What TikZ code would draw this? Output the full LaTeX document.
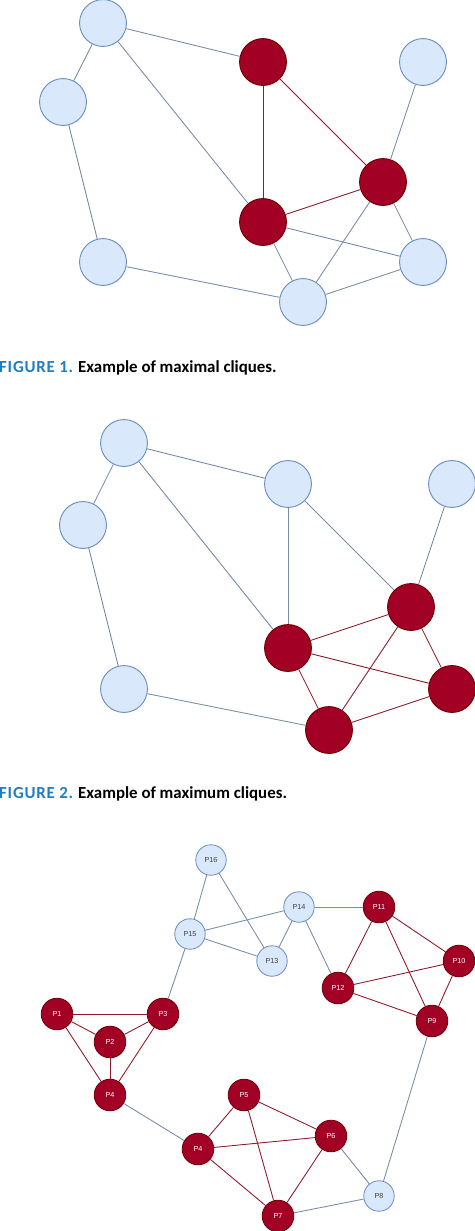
\documentclass[tikz,border=0pt]{standalone}
\usepackage{fontspec}
\setmainfont{Carlito}
\newfontfamily\labelfont{Liberation Sans}
\newfontfamily\capsfont[LetterSpace=4.5]{Carlito}
\usetikzlibrary{calc}
\definecolor{crimson}{HTML}{A20025}
\definecolor{crimsonline}{HTML}{6F0000}
\definecolor{paleblue}{HTML}{DAE8FC}
\definecolor{paleline}{HTML}{6C8EBF}
\definecolor{greyedge}{HTML}{7B8DA6}
\definecolor{redge}{HTML}{8E1B2B}
\definecolor{capblue}{HTML}{1F7DC1}
\tikzset{
  vtx/.style={circle,draw=paleline,fill=paleblue,line width=0.8pt,minimum size=40,inner sep=0pt},
  hot/.style={circle,draw=crimsonline,fill=crimson,line width=0.8pt,minimum size=40,inner sep=0pt},
  pvtx/.style={circle,draw=paleline,fill=paleblue,line width=0.7pt,minimum size=26,inner sep=0pt,
    text=black!75,font=\labelfont\fontsize{6.2}{7}\selectfont},
  phot/.style={circle,draw=crimsonline,fill=crimson,line width=0.7pt,minimum size=27,inner sep=0pt,
    text=white,font=\labelfont\fontsize{6.2}{7}\selectfont},
  edge/.style={draw=greyedge,line width=0.75pt},
  cedge/.style={draw=redge,line width=0.75pt},
  figno/.style={text=capblue,font=\capsfont\bfseries\fontsize{14.4}{16}\selectfont,anchor=base west,inner sep=0pt},
  captxt/.style={text=black,font=\bfseries\fontsize{14.4}{16}\selectfont,anchor=base west,inner sep=0pt}
}
\begin{document}
\begin{tikzpicture}[x=0.03cm,y=-0.03cm]
  \path[use as bounding box] (0,0) rectangle (474,1231);

  % Figure 1: maximal clique.
  \node[vtx] (a1) at (103,23) {};
  \node[vtx] (b1) at (63,102) {};
  \node[vtx] (c1) at (103,262) {};
  \node[hot] (d1) at (263,62) {};
  \node[vtx] (e1) at (423,62) {};
  \node[hot] (f1) at (383,182) {};
  \node[hot] (g1) at (263,222) {};
  \node[vtx] (h1) at (423,262) {};
  \node[vtx] (i1) at (303,302) {};
  \draw[edge] (a1) -- (d1);
  \draw[edge] (a1) -- (b1);
  \draw[edge] (a1) -- (g1);
  \draw[edge] (b1) -- (c1);
  \draw[edge] (c1) -- (i1);
  \draw[edge] (e1) -- (f1);
  \draw[edge] (g1) -- (i1);
  \draw[edge] (g1) -- (h1);
  \draw[edge] (f1) -- (i1);
  \draw[edge] (f1) -- (h1);
  \draw[edge] (i1) -- (h1);
  \draw[cedge] (d1) -- (g1);
  \draw[cedge] (d1) -- (f1);
  \draw[cedge] (g1) -- (f1);

  \node[figno] (cap1) at (-1,372) {FIGURE 1.};
  \node[captxt] (txt1) at (78,372) {Example of maximal cliques.};

  % Figure 2: maximum clique.
  \node[vtx] (a2) at (124,443) {};
  \node[vtx] (b2) at (83,525) {};
  \node[vtx] (c2) at (124,689) {};
  \node[vtx] (d2) at (288,484) {};
  \node[vtx] (e2) at (452,484) {};
  \node[hot] (f2) at (411,607) {};
  \node[hot] (g2) at (288,648) {};
  \node[hot] (h2) at (452,689) {};
  \node[hot] (i2) at (329,730) {};
  \draw[edge] (a2) -- (d2);
  \draw[edge] (a2) -- (b2);
  \draw[edge] (a2) -- (g2);
  \draw[edge] (b2) -- (c2);
  \draw[edge] (c2) -- (i2);
  \draw[edge] (d2) -- (g2);
  \draw[edge] (d2) -- (f2);
  \draw[edge] (e2) -- (f2);
  \draw[cedge] (g2) -- (f2);
  \draw[cedge] (g2) -- (h2);
  \draw[cedge] (g2) -- (i2);
  \draw[cedge] (f2) -- (i2);
  \draw[cedge] (f2) -- (h2);
  \draw[cedge] (i2) -- (h2);

  \node[figno] (cap2) at (-1,798) {FIGURE 2.};
  \node[captxt] (txt2) at (78,798) {Example of maximum cliques.};

  % Figure 3: labelled graph with its cliques.
  \node[pvtx] (p16) at (211,860) {P16};
  \node[pvtx] (p15) at (190,934) {P15};
  \node[pvtx] (p14) at (299,907) {P14};
  \node[pvtx] (p13) at (272,961) {P13};
  \node[phot] (p11) at (379,907) {P11};
  \node[phot] (p10) at (459,961) {P10};
  \node[phot] (p12) at (338,988) {P12};
  \node[phot] (p9) at (432,1021) {P9};
  \node[phot] (p1) at (57,1014) {P1};
  \node[phot] (p3) at (163,1014) {P3};
  \node[phot] (p2) at (110,1042) {P2};
  \node[phot] (p4) at (110,1095) {P4};
  \node[phot] (p5) at (244,1095) {P5};
  \node[phot] (q4) at (198,1149) {P4};
  \node[phot] (p6) at (331,1136) {P6};
  \node[pvtx] (p8) at (379,1196) {P8};
  \node[phot] (p7) at (278,1216) {P7};

  \draw[edge] (p16) -- (p15);
  \draw[edge] (p16) -- (p13);
  \draw[edge] (p15) -- (p14);
  \draw[edge] (p15) -- (p13);
  \draw[edge] (p14) -- (p13);
  \draw[edge] (p14) -- (p11);
  \draw[edge] (p14) -- (p12);
  \draw[edge] (p15) -- (p3);
  \draw[edge] (p9) -- (p8);
  \draw[edge] (p4) -- (q4);
  \draw[edge] (p6) -- (p8);
  \draw[edge] (p7) -- (p8);

  \draw[cedge] (p11) -- (p12);
  \draw[cedge] (p11) -- (p10);
  \draw[cedge] (p11) -- (p9);
  \draw[cedge] (p12) -- (p10);
  \draw[cedge] (p12) -- (p9);
  \draw[cedge] (p10) -- (p9);

  \draw[cedge] (p1) -- (p3);
  \draw[cedge] (p1) -- (p2);
  \draw[cedge] (p1) -- (p4);
  \draw[cedge] (p3) -- (p2);
  \draw[cedge] (p3) -- (p4);
  \draw[cedge] (p2) -- (p4);

  \draw[cedge] (p5) -- (q4);
  \draw[cedge] (p5) -- (p6);
  \draw[cedge] (p5) -- (p7);
  \draw[cedge] (q4) -- (p6);
  \draw[cedge] (q4) -- (p7);
  \draw[cedge] (p6) -- (p7);
\end{tikzpicture}
\end{document}
